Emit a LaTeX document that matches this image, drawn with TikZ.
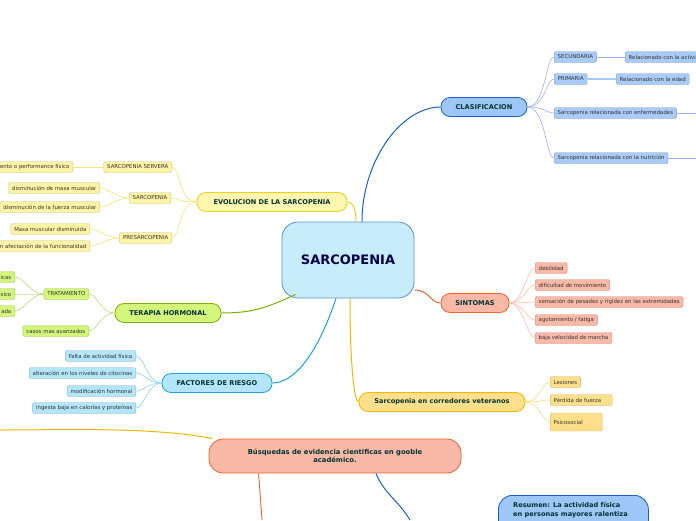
\documentclass[tikz,border=0pt]{standalone}
\usepackage{fontspec}
\setmainfont{DejaVu Sans}
\begin{document}
\begin{tikzpicture}[x=1pt,y=-1pt,
 leaf/.style={draw=#1!80!black,fill=#1,rounded corners=1.5pt,font=\fontsize{5.4}{6}\selectfont,inner xsep=3.5pt,inner ysep=0pt,minimum height=11pt,text=black!80},
 main/.style={draw=#1,line width=0.8pt,rounded corners=9pt,font=\bfseries\fontsize{6.6}{7}\selectfont,text=teal!40!black,inner sep=0pt,minimum height=19pt},
 br/.style={line width=#1}]
\useasboundingbox (0,0) rectangle (696,520);
\clip (0,0) rectangle (696,520);
\definecolor{cBlueF}{HTML}{9EC6F7}\definecolor{cBlueL}{HTML}{A9CBF7}\definecolor{cBlueD}{HTML}{1A5FD0}
\definecolor{cYelF}{HTML}{FFF6B0}\definecolor{cYelL}{HTML}{FFF3A6}\definecolor{cYelD}{HTML}{F0D020}
\definecolor{cGrnF}{HTML}{D3F57A}\definecolor{cGrnL}{HTML}{D3F57A}\definecolor{cGrnD}{HTML}{7FB000}
\definecolor{cCyF}{HTML}{B3E5FB}\definecolor{cCyL}{HTML}{B3E5FB}\definecolor{cCyD}{HTML}{1EA0E0}
\definecolor{cRedF}{HTML}{F9B9A6}\definecolor{cRedL}{HTML}{F9B9A6}\definecolor{cRedD}{HTML}{F06030}
\definecolor{cOrF}{HTML}{FFDF8A}\definecolor{cOrL}{HTML}{FFDF8A}\definecolor{cOrD}{HTML}{F5B800}
% center
\node[draw=cBlueD!70,fill=cyan!22,line width=0.8pt,rounded corners=16pt,minimum width=132pt,minimum height=76pt,font=\bfseries\fontsize{13}{14}\selectfont,text=blue!30!black] (C) at (348,260) {SARCOPENIA};
% main nodes
\node[main=cBlueD,fill=cBlueF,minimum width=86pt] (CL) at (484,107) {CLASIFICACION};
\node[main=cYelD,fill=cYelF,minimum width=150pt] (EV) at (272,202) {EVOLUCION DE LA SARCOPENIA};
\node[main=cGrnD,fill=cGrnF,minimum width=106pt] (TH) at (168,313) {TERAPIA HORMONAL};
\node[main=cCyD,fill=cCyF,minimum width=110pt] (FR) at (217,383) {FACTORES DE RIESGO};
\node[main=cRedD,fill=cRedF,minimum width=68pt] (SI) at (475,303) {SINTOMAS};
\node[main=cOrD,fill=cOrF,minimum width=166pt] (CO) at (442,402) {Sarcopenia en corredores veteranos};
\node[main=cRedD,fill=cRedF,minimum width=252pt,minimum height=34pt,rounded corners=14pt,align=center,font=\bfseries\fontsize{6.8}{7.6}\selectfont] (BU) at (335,456) {Búsquedas de evidencia cientificas en gooble\\académico.};
\node[draw=cBlueD,fill=cBlueF,line width=0.8pt,rounded corners=14pt,minimum width=150pt,minimum height=60pt,anchor=north west] (RE) at (498,495) {};
\node[anchor=north west,align=left,font=\bfseries\fontsize{6.6}{9}\selectfont,text=teal!40!black,inner sep=0pt] (RT) at (513,502) {Resumen: La actividad física\\en personas mayores ralentiza};
% center connectors
\draw[cBlueD,br=1pt] (C.north) ++(14,0) coordinate (c1) .. controls +(0,-60) and +(-40,0) .. (CL.west);
\draw[cYelD,br=1pt] (C.north) ++(8,0) coordinate (c2) .. controls +(0,-12) and +(6,0) .. (EV.east);
\draw[cGrnD,br=1pt] (C.south west) ++(14,-4) coordinate (c3) .. controls +(-30,14) and +(30,0) .. (TH.east);
\draw[cCyD,br=1pt] (C.south) ++(-12,0) coordinate (c4) .. controls +(-20,60) and +(20,0) .. (FR.east);
\draw[cRedD,br=1pt] (C.east) ++(0,30) coordinate (c5) .. controls +(15,0) and +(-10,0) .. (SI.west);
\draw[cOrD,br=1pt] (C.south) ++(2,0) coordinate (c6) .. controls +(0,70) and +(-4,0) .. (CO.west);
\coordinate (b1) at (0,430); \coordinate (b2) at (262,520); \coordinate (b3) at (410,520);
\draw[cOrD,br=1pt] (BU.north west) ++(4,0) .. controls +(-60,-12) and +(60,0) .. (b1);
\draw[cRedD,br=0.9pt] (BU.south west) ++(50,0) -- (b2);
\draw[cBlueD,br=1pt] (BU.south) ++(41,0) .. controls +(8,20) and +(-12,-20) .. (b3);
% CLASIFICACION children
\node[leaf=cBlueL,anchor=west] (s1) at (554,57) {SECUNDARIA};
\node[leaf=cBlueL,anchor=west] (s1a) at (625,57) {Relacionado con la actividad física};
\node[leaf=cBlueL,anchor=west] (s2) at (554,79) {PRIMARIA};
\node[leaf=cBlueL,anchor=west] (s2a) at (616,79) {Relacionado con la edad};
\node[leaf=cBlueL,anchor=west] (s3) at (554,113) {Sarcopenia relacionada con enfermedades};
\node[leaf=cBlueL,anchor=west] (s4) at (554,158) {Sarcopenia relacionada con la nutrición};
\coordinate (e3) at (696,113); \coordinate (e4) at (696,158);
\foreach \n in {s1,s2,s3,s4}{\draw[cBlueL!60!blue!60,br=0.6pt] (CL.east) .. controls +(18,0) and +(-8,0) .. (\n.west);}
\draw[cBlueL!60!blue!60,br=0.6pt] (s1.east) -- (s1a.west);
\draw[cBlueL,br=1.5pt] (s2.east) -- (s2a.west);
\draw[cBlueL!60!blue!60,br=0.6pt] (s3.east) -- (e3);
\draw[cBlueL!60!blue!60,br=0.6pt] (s4.east) -- (e4);
% EVOLUCION children
\node[leaf=cYelL,anchor=east] (v1) at (172,167) {SARCOPENIA SERVERA};
\node[leaf=cYelL,anchor=east] (v1a) at (73,167) {ento o performance físico};
\node[leaf=cYelL,anchor=east] (v2) at (171,198) {SARCOPENIA};
\node[leaf=cYelL,anchor=east] (v2a) at (100,188) {disminución de masa muscular};
\node[leaf=cYelL,anchor=east] (v2b) at (100,207) {disminución de la fuerza muscular};
\node[leaf=cYelL,anchor=east] (v3) at (172,238) {PRESARCOPENIA};
\node[leaf=cYelL,anchor=east] (v3a) at (90,229) {Masa muscular disminuida};
\node[leaf=cYelL,anchor=east] (v3b) at (90,246) {n afectación de la funcionalidad};
\foreach \n in {v1,v2,v3}{\draw[cYelD!60,br=0.6pt] (EV.west) .. controls +(-18,0) and +(8,0) .. (\n.east);}
\draw[cYelD!60,br=0.6pt] (v1.west) -- (v1a.east);
\foreach \n in {v2a,v2b}{\draw[cYelD!60,br=0.6pt] (v2.west) .. controls +(-12,0) and +(8,0) .. (\n.east);}
\foreach \n in {v3a,v3b}{\draw[cYelD!60,br=0.6pt] (v3.west) .. controls +(-12,0) and +(8,0) .. (\n.east);}
% TERAPIA children
\node[leaf=cGrnL,anchor=east] (t1) at (89,294) {TRATAMIENTO};
\node[leaf=cGrnL,anchor=east] (t1a) at (15,277) {icas};
\node[leaf=cGrnL,anchor=east] (t1b) at (15,294) {sico};
\node[leaf=cGrnL,anchor=east] (t1c) at (15,311) {ada};
\node[leaf=cGrnL,anchor=east] (t2) at (89,331) {casos mas avanzados};
\foreach \n in {t1,t2}{\draw[cGrnD!50,br=0.6pt] (TH.west) .. controls +(-14,0) and +(8,0) .. (\n.east);}
\foreach \n in {t1a,t1b,t1c}{\draw[cGrnD!50,br=0.6pt] (t1.west) .. controls +(-12,0) and +(8,0) .. (\n.east);}
% FACTORES children
\node[leaf=cCyL,anchor=east] (f1) at (136,356) {Falta de actividad física};
\node[leaf=cCyL,anchor=east] (f2) at (136,373) {alteración en los niveles de citocinas};
\node[leaf=cCyL,anchor=east] (f3) at (136,391) {modificación hormonal};
\node[leaf=cCyL,anchor=east] (f4) at (136,408) {ingesta baja en calorías y proteínas};
\foreach \n in {f1,f2,f3,f4}{\draw[cCyD!50,br=0.6pt] (FR.west) .. controls +(-14,0) and +(8,0) .. (\n.east);}
% SINTOMAS children
\node[leaf=cRedL,anchor=west] (m1) at (535,268) {debilidad};
\node[leaf=cRedL,anchor=west] (m2) at (535,285) {dificultad de movimiento};
\node[leaf=cRedL,anchor=west] (m3) at (535,302) {sensación de pesadez y rigidez en las extremidades};
\node[leaf=cRedL,anchor=west] (m4) at (535,320) {agotamiento / fatiga};
\node[leaf=cRedL,anchor=west] (m5) at (535,338) {baja velocidad de marcha};
\foreach \n in {m1,m2,m3,m4,m5}{\draw[cRedD!40,br=0.6pt] (SI.east) .. controls +(14,0) and +(-8,0) .. (\n.west);}
% CORREDORES children
\node[leaf=cOrL,anchor=west] (o1) at (550,382) {Lesiones};
\node[leaf=cOrL,text width=55pt,anchor=west,align=left] (o2) at (550,400) {Pérdida de fuerza};
\node[leaf=cOrL,text width=45pt,minimum height=18pt,anchor=west,align=left] (o3) at (550,422) {Psicosocial};
\foreach \n in {o1,o2,o3}{\draw[cOrD!50,br=0.6pt] (CO.east) .. controls +(14,0) and +(-8,0) .. (\n.west);}
\end{tikzpicture}
\end{document}
